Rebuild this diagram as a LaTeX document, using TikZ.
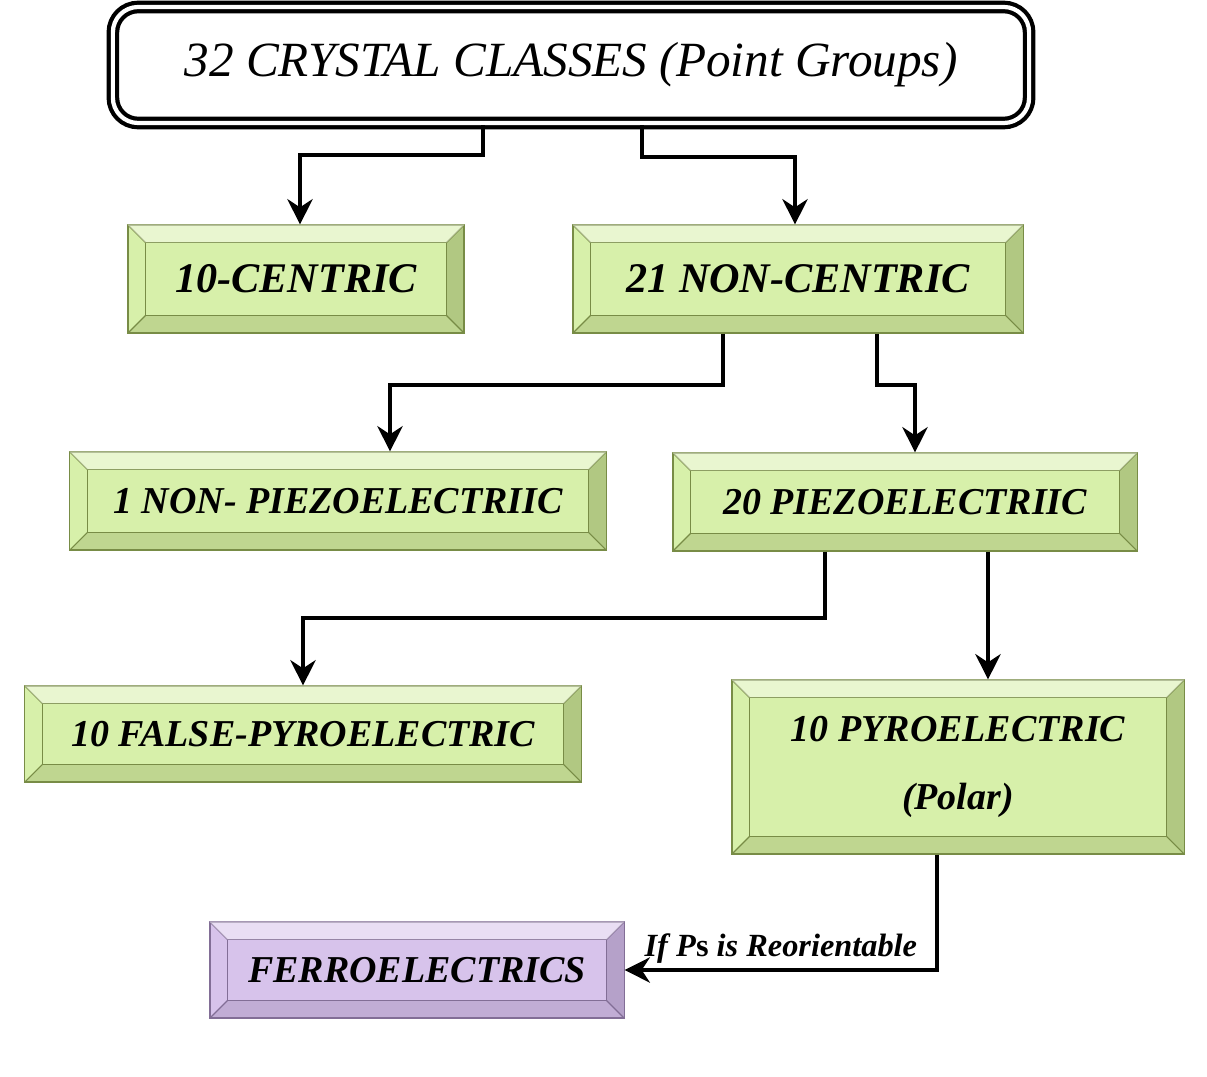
\documentclass[tikz,border=0pt]{standalone}
\usepackage{fontspec}
\setmainfont{Liberation Serif}
\usetikzlibrary{positioning,arrows.meta}
\definecolor{boxgreen}{RGB}{215,240,170}
\definecolor{boxedge}{RGB}{120,140,70}
\definecolor{boxpurple}{RGB}{215,195,235}
\definecolor{edgepurple}{RGB}{130,110,150}
\tikzset{
  box/.style={draw=boxedge,thick,fill=boxgreen,align=center,
    font=\fontsize{30}{36}\selectfont\bfseries\itshape},
  flow/.style={-{Stealth[length=18pt,width=18pt]},line width=2.5pt}
}
% bevel corners on a named box
\newcommand{\bevel}[2]{%
  \draw[#2,thick] ([shift={(18,18)}]#1.north west) rectangle ([shift={(-18,-18)}]#1.south east);
  \draw[#2,thick] (#1.north west) -- ++(18,18) (#1.north east) -- ++(-18,18)
    (#1.south west) -- ++(18,-18) (#1.south east) -- ++(-18,-18);
  \fill[#2,opacity=.4] (#1.north east) -- ++(-18,18) |- ([shift={(-18,-18)}]#1.south east) -- (#1.south east) -- cycle;
  \fill[#2,opacity=.25] (#1.south west) -- ++(18,-18) -| ([shift={(-18,-18)}]#1.south east) -- (#1.south east) -- cycle;
  \fill[white,opacity=.45] (#1.north west) -- ++(18,18) -| ([shift={(-18,18)}]#1.north east) -- (#1.north east) -- cycle;
}
\begin{document}
\begin{tikzpicture}[x=0.025cm,y=-0.025cm]
\useasboundingbox (0,0) rectangle (1207,1076);
\node[draw,line width=3pt,double,double distance=3pt,rounded corners=18pt,fill=white,
  minimum width=22.9cm,minimum height=2.9cm,
  font=\fontsize{35}{42}\selectfont\itshape] (top) at (571,65) {32 CRYSTAL CLASSES (Point Groups)};
\node[box,minimum width=8.4cm,minimum height=2.7cm] (cen) at (296,279) {10-CENTRIC};
\node[box,minimum width=11.25cm,minimum height=2.7cm] (ncen) at (798,279) {21 NON-CENTRIC};
\node[box,minimum width=13.4cm,minimum height=2.45cm,font=\fontsize{27}{32}\selectfont\bfseries\itshape] (npz) at (338,501) {1 NON- PIEZOELECTRIIC};
\node[box,minimum width=11.6cm,minimum height=2.45cm,font=\fontsize{27}{32}\selectfont\bfseries\itshape] (pz) at (905,502) {20 PIEZOELECTRIIC};
\node[box,minimum width=13.9cm,minimum height=2.4cm,font=\fontsize{27}{32}\selectfont\bfseries\itshape] (fpy) at (303,734) {10 FALSE-PYROELECTRIC};
\node[box,minimum width=11.3cm,minimum height=4.35cm,font=\fontsize{27}{48}\selectfont\bfseries\itshape] (py) at (958,767) {10 PYROELECTRIC\\(Polar)};
\node[box,draw=edgepurple,fill=boxpurple,minimum width=10.35cm,minimum height=2.4cm,font=\fontsize{27}{32}\selectfont\bfseries\itshape] (fe) at (417,970) {FERROELECTRICS};
\bevel{cen}{boxedge}
\bevel{ncen}{boxedge}
\bevel{npz}{boxedge}
\bevel{pz}{boxedge}
\bevel{fpy}{boxedge}
\bevel{py}{boxedge}
\bevel{fe}{edgepurple}
\draw[flow] (top.south -| 483,0) |- (300,155) -- (cen.north -| 300,0);
\draw[flow] (top.south -| 642,0) |- (795,157) -- (ncen.north -| 795,0);
\draw[flow] (ncen.south -| 723,0) |- (390,385) -- (npz.north -| 390,0);
\draw[flow] (ncen.south -| 877,0) |- (915,385) -- (pz.north -| 915,0);
\draw[flow] (pz.south -| 825,0) |- (303,618) -- (fpy.north -| 303,0);
\draw[flow] (pz.south -| 988,0) -- (py.north -| 988,0);
\draw[flow] (py.south -| 937,0) |- (fe.east)
  node[pos=0.75,above,font=\fontsize{23}{26}\selectfont\bfseries\itshape] {If P\textsc{s} is Reorientable};
\end{tikzpicture}
\end{document}
